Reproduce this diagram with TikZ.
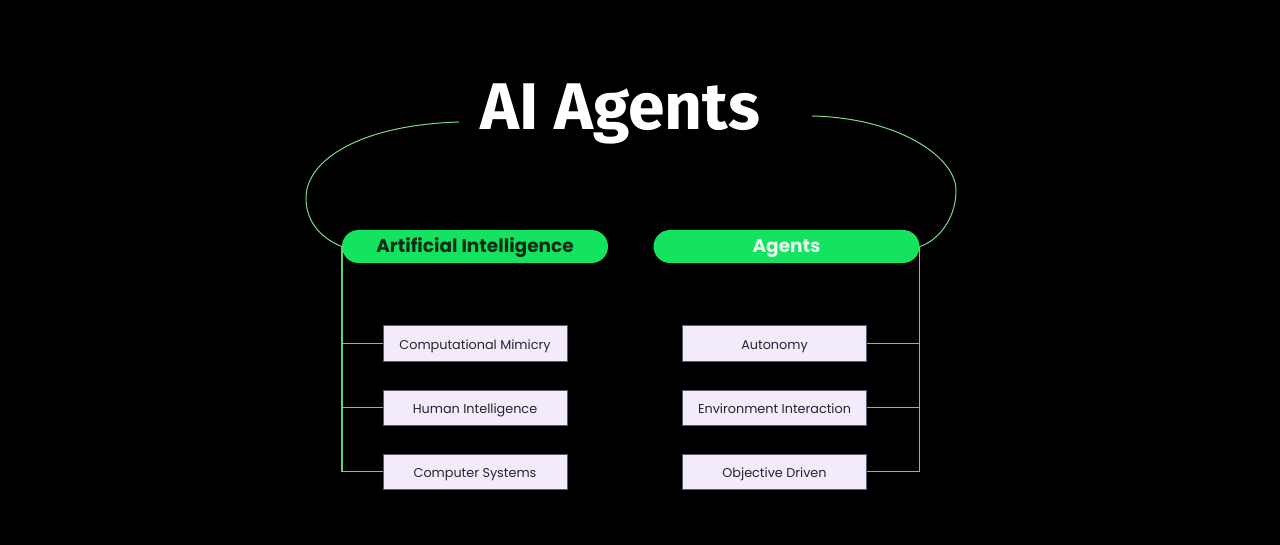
\documentclass[tikz,border=0pt]{standalone}
\usepackage{fontspec}
\setmainfont{Poppins}
\newfontfamily\titlefont{Fira Sans}
\definecolor{bg}{HTML}{000000}
\definecolor{pillgreen}{HTML}{14E35F}
\definecolor{linegreen}{HTML}{7ED88C}
\definecolor{treegreen}{HTML}{5ED472}
\definecolor{boxfill}{HTML}{F3EBFC}
\definecolor{boxline}{HTML}{5A5A6A}
\definecolor{darktext}{HTML}{0B2A14}
\definecolor{paletext}{HTML}{EAFBEF}
\tikzset{
  pill/.style={fill=pillgreen, rounded corners=16.5pt, minimum width=266pt, minimum height=33pt, inner sep=0pt, font=\fontsize{18.5}{20}\selectfont\bfseries, text height=13pt, text depth=0pt},
  itembox/.style={fill=boxfill, draw=boxline, line width=1pt, minimum width=184pt, minimum height=35pt, inner sep=0pt, font=\fontsize{12.8}{15}\selectfont, text=black!85, text height=11pt, text depth=0pt},
  treeline/.style={draw=treegreen, line width=1.4pt},
  arcline/.style={draw=linegreen, line width=1pt},
}
\begin{document}
\begin{tikzpicture}[x=1pt,y=-1pt]
\fill[bg] (0,0) rectangle (1280,545);
\useasboundingbox (0,0) rectangle (1280,545);
\node[font=\titlefont\bfseries\fontsize{66}{70}\selectfont, text=white, text height=45pt, text depth=0pt, inner sep=0pt] (title) at (620,107) {AI Agents};
\node[pill, text=darktext] (ai) at (475,246.5) {Artificial Intelligence};
\node[pill, text=paletext] (ag) at (786.5,246.5) {Agents};
\node[itembox] (c1) at (475,343.5) {Computational Mimicry};
\node[itembox] (c2) at (475,407.5) {Human Intelligence};
\node[itembox] (c3) at (475,471.5) {Computer Systems};
\node[itembox] (a1) at (774.5,343.5) {Autonomy};
\node[itembox] (a2) at (774.5,407.5) {Environment Interaction};
\node[itembox] (a3) at (774.5,471.5) {Objective Driven};
\coordinate (tl) at (459,122);
\coordinate (tr) at (812,116);
% arcs
\draw[arcline] (tl) .. controls (360,125) and (306,160) .. (306,198) .. controls (306,225) and (325,240) .. (ai.west);
\draw[arcline] (tr) .. controls (900,118) and (956,158) .. (956,190) .. controls (956,222) and (935,242) .. (ag.east);
% left tree
\draw[treeline] (ai.west) |- (c3.west);
\draw[treeline] (ai.west) |- (c2.west);
\draw[treeline] (ai.west) |- (c1.west);
% right tree
\draw[treeline] (ag.east) |- (a3.east);
\draw[treeline] (ag.east) |- (a2.east);
\draw[treeline] (ag.east) |- (a1.east);
\end{tikzpicture}
\end{document}
